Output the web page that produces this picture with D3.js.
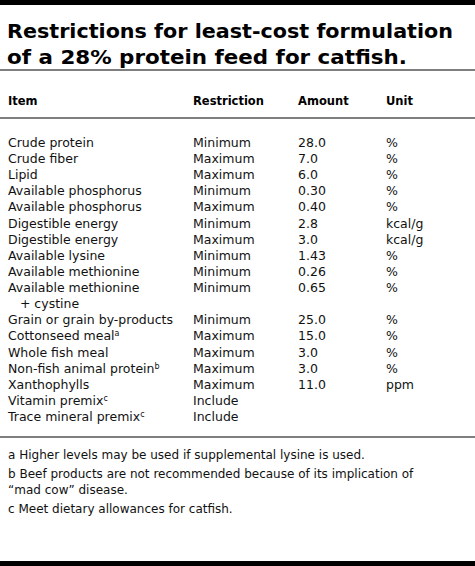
<!DOCTYPE html><html><head><meta charset="utf-8"><script src="https://cdn.jsdelivr.net/npm/d3@7"></script>
<style>body{margin:0;background:#fff}</style></head><body><svg width="475" height="566"></svg><script>
const items=["Crude protein","Crude fiber","Lipid","Available phosphorus","Available phosphorus","Digestible energy","Digestible energy","Available lysine","Available methionine","Available methionine","   + cystine","Grain or grain by-products","Cottonseed meal","Whole fish meal","Non-fish animal protein","Xanthophylls","Vitamin premix","Trace mineral premix"];
const sups=["","","","","","","","","","","","","a","","b","","c","c"];
const restrictions=["Minimum","Maximum","Maximum","Minimum","Maximum","Minimum","Maximum","Minimum","Minimum","Minimum","","Minimum","Maximum","Maximum","Maximum","Maximum","Include","Include"];
const amounts=["28.0","7.0","6.0","0.30","0.40","2.8","3.0","1.43","0.26","0.65","","25.0","15.0","3.0","3.0","11.0","",""];
const units=["%","%","%","%","%","kcal/g","kcal/g","%","%","%","","%","%","%","%","ppm","",""];
const headers=["Item","Restriction","Amount","Unit"];
const titleLines=["Restrictions for least-cost formulation","of a 28% protein feed for catfish."];
const notes=["a Higher levels may be used if supplemental lysine is used.","b Beef products are not recommended because of its implication of","\u201Cmad cow\u201D disease.","c Meet dietary allowances for catfish."];
const svg=d3.select("svg"),F="'DejaVu Sans', sans-serif";
svg.append("rect").attr("x",0).attr("y",0).attr("width",475).attr("height",5).attr("fill","#000");
svg.append("rect").attr("x",0).attr("y",561).attr("width",475).attr("height",5).attr("fill","#000");
svg.selectAll(".t").data(titleLines).join("text").attr("x",7).attr("y",(d,i)=>38+i*26).text(d=>d)
 .attr("font-family",F).attr("font-weight","bold").attr("font-size",19).attr("fill","#000")
 .attr("textLength",(d,i)=>i?400:446).attr("lengthAdjust","spacingAndGlyphs");
[70,118,437].forEach(y=>svg.append("line").attr("x1",0).attr("x2",475).attr("y1",y).attr("y2",y).attr("stroke","#000").attr("stroke-width",1.2));
const cols=[8,193,298,386];
svg.selectAll(".h").data(headers).join("text").attr("x",(d,i)=>cols[i]).attr("y",105).text(d=>d)
 .attr("font-family",F).attr("font-weight","bold").attr("font-size",11.5).attr("fill","#000");
const y=d3.scaleLinear().domain([0,17]).range([147,421]);
const g=svg.append("g").attr("font-family",F).attr("font-size",12.5).attr("fill","#111");
items.forEach((it,i)=>{
 const t=g.append("text").attr("x",cols[0]).attr("y",y(i)).attr("xml:space","preserve").text(it);
 if(sups[i])t.append("tspan").attr("font-size",8).attr("dy",-4).text(sups[i]);
 [restrictions[i],amounts[i],units[i]].forEach((v,j)=>g.append("text").attr("x",cols[j+1]).attr("y",y(i)).text(v));
});
svg.selectAll(".n").data(notes).join("text").attr("x",8).attr("y",(d,i)=>[459,478,494,513][i]).text(d=>d)
 .attr("font-family",F).attr("font-size",12).attr("fill","#111");
</script></body></html>
